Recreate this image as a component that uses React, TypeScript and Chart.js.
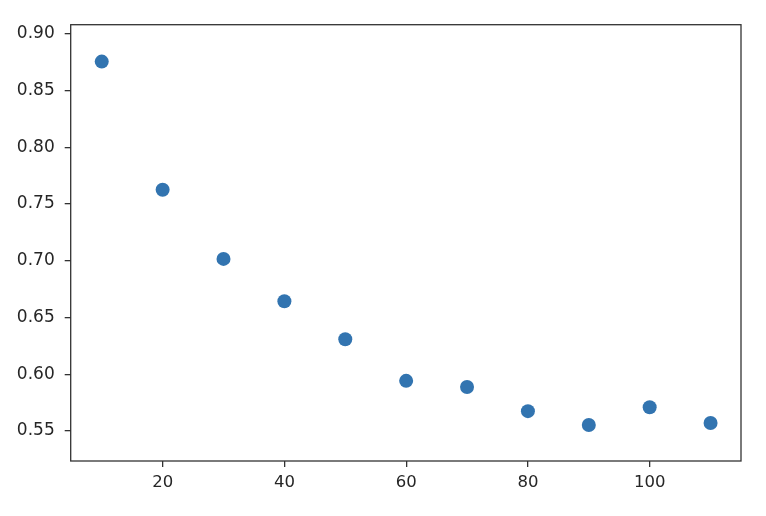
import { useEffect, useRef } from 'react';
import Chart from 'chart.js/auto';

// x positions and measured y values
const xValues = [10, 20, 30, 40, 50, 60, 70, 80, 90, 100, 110];
const yValues = [0.8754, 0.7625, 0.7016, 0.6643, 0.6309, 0.5942, 0.5888, 0.5675, 0.5553, 0.571, 0.5571];

const xTicks = [20, 40, 60, 80, 100];
const yTicks = [0.55, 0.6, 0.65, 0.7, 0.75, 0.8, 0.85, 0.9];

const axisColor = '#333333';
const labelColor = '#262626';

// draws the full box round the plot area, like matplotlib spines
const frameBox = {
  id: 'frameBox',
  afterDraw(chart: any) {
    const { ctx, chartArea } = chart;
    ctx.save();
    ctx.strokeStyle = axisColor;
    ctx.lineWidth = 1.3;
    ctx.strokeRect(chartArea.left, chartArea.top, chartArea.right - chartArea.left, chartArea.bottom - chartArea.top);
    ctx.restore();
  },
};

export default function App() {
  const canvasRef = useRef<HTMLCanvasElement | null>(null);

  useEffect(() => {
    if (!canvasRef.current) return;
    const chart = new Chart(canvasRef.current, {
      type: 'scatter',
      data: {
        datasets: [
          {
            data: xValues.map((x, i) => ({ x, y: yValues[i] })),
            backgroundColor: '#3274b0',
            borderColor: '#3274b0',
            borderWidth: 0,
            pointRadius: 7,
          },
        ],
      },
      options: {
        animation: false,
        responsive: false,
        layout: { padding: { left: 0, right: 25, top: 24.7, bottom: 0 } },
        plugins: { legend: { display: false }, tooltip: { enabled: false } },
        scales: {
          x: {
            type: 'linear',
            min: 4.9,
            max: 115,
            afterBuildTicks: (axis: any) => {
              axis.ticks = xTicks.map((v) => ({ value: v }));
            },
            afterFit: (axis: any) => {
              axis.height = 55;
            },
            border: { display: false },
            grid: { drawOnChartArea: false, drawTicks: true, tickLength: 6, color: axisColor, lineWidth: 1.3 },
            ticks: {
              color: labelColor,
              padding: 6,
              maxRotation: 0,
              font: { family: 'DejaVu Sans', size: 16.5 },
              callback: (v: any) => String(v),
            },
          },
          y: {
            type: 'linear',
            min: 0.5236,
            max: 0.9079,
            afterBuildTicks: (axis: any) => {
              axis.ticks = yTicks.map((v) => ({ value: v }));
            },
            afterFit: (axis: any) => {
              axis.width = 70.7;
            },
            border: { display: false },
            grid: { drawOnChartArea: false, drawTicks: true, tickLength: 6, color: axisColor, lineWidth: 1.3 },
            ticks: {
              color: labelColor,
              padding: 10,
              font: { family: 'DejaVu Sans', size: 17 },
              callback: (v: any) => Number(v).toFixed(2),
            },
          },
        },
      },
      plugins: [frameBox],
    });
    return () => chart.destroy();
  }, []);

  return (
    <div style={{ position: 'fixed', left: 0, top: 0, width: 766, height: 516, background: '#ffffff' }}>
      <canvas ref={canvasRef} width={766} height={516} style={{ width: 766, height: 516 }} />
    </div>
  );
}
